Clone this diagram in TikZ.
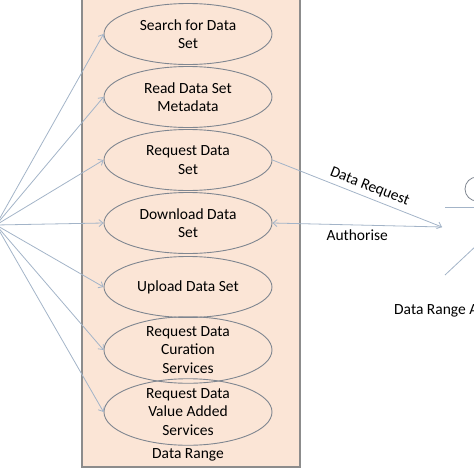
\documentclass[tikz,border=0pt]{standalone}
\usepackage{fontspec}
\setmainfont{Carlito}
\usetikzlibrary{shapes.geometric,arrows.meta}
\definecolor{peach}{HTML}{FBE5D6}
\definecolor{boxgrey}{HTML}{8C8C8C}
\definecolor{casegrey}{HTML}{7F8690}
\definecolor{linkblue}{HTML}{A3B4C8}
\begin{document}
\begin{tikzpicture}[x=1pt,y=-1pt,
    usecase/.style={ellipse,draw=casegrey,line width=0.9pt,minimum width=168pt,minimum height=61pt,
        inner sep=0pt,align=center,font=\fontsize{15.5}{18.5}\selectfont},
    link/.style={draw=linkblue,line width=0.8pt,-{Straight Barb[length=4pt,width=7pt]}},
    linktext/.style={font=\fontsize{15.5}{18.5}\selectfont,inner sep=1pt}]
    \useasboundingbox (0,0) rectangle (474,474);
    \clip (0,0) rectangle (474,474);
    % system boundary
    \draw[draw=boxgrey,fill=peach,line width=1.2pt] (82,-10) rectangle (300,467);
    % use cases
    \node[usecase] (search) at (188,34) {Search for Data\\Set};
    \node[usecase] (readmeta) at (188,97) {Read Data Set\\Metadata};
    \node[usecase] (request) at (188,160) {Request Data\\Set};
    \node[usecase] (download) at (188,223) {Download Data\\Set};
    \node[usecase] (upload) at (188,287) {Upload Data Set};
    \node[usecase] (curation) at (188,350) {Request Data\\Curation\\Services};
    \node[usecase] (valueadd) at (188,412) {Request Data\\Value Added\\Services};
    \node[linktext] (range) at (188,455) {Data Range};
    % actors
    \coordinate (user) at (-4,225);
    \coordinate (admin) at (442,227);
    \node[circle,draw=casegrey,line width=0.8pt,minimum size=24pt,inner sep=0pt] (head) at (477,189) {};
    \draw[linkblue,line width=0.8pt] (head.south) -- (477,245) -- (445,275);
    \draw[linkblue,line width=0.8pt] (477,245) -- (509,275);
    \draw[linkblue,line width=0.8pt] (445,207) -- (509,207);
    \node[linktext,anchor=west] (adminname) at (393,310) {Data Range Administrator};
    % connectors
    \draw[link] (user) -- (search.west);
    \draw[link] (user) -- (readmeta.west);
    \draw[link] (user) -- (request.west);
    \draw[link] (user) -- (download.west);
    \draw[link] (user) -- (upload.west);
    \draw[link] (user) -- (curation.west);
    \draw[link] (user) -- (valueadd.west);
    \draw[link] (request.east) -- node[linktext,pos=0.55,sloped,above=3pt] {Data Request} (admin);
    \draw[link] (admin) -- node[linktext,midway,below=3pt] {Authorise} (download.east);
\end{tikzpicture}
\end{document}
